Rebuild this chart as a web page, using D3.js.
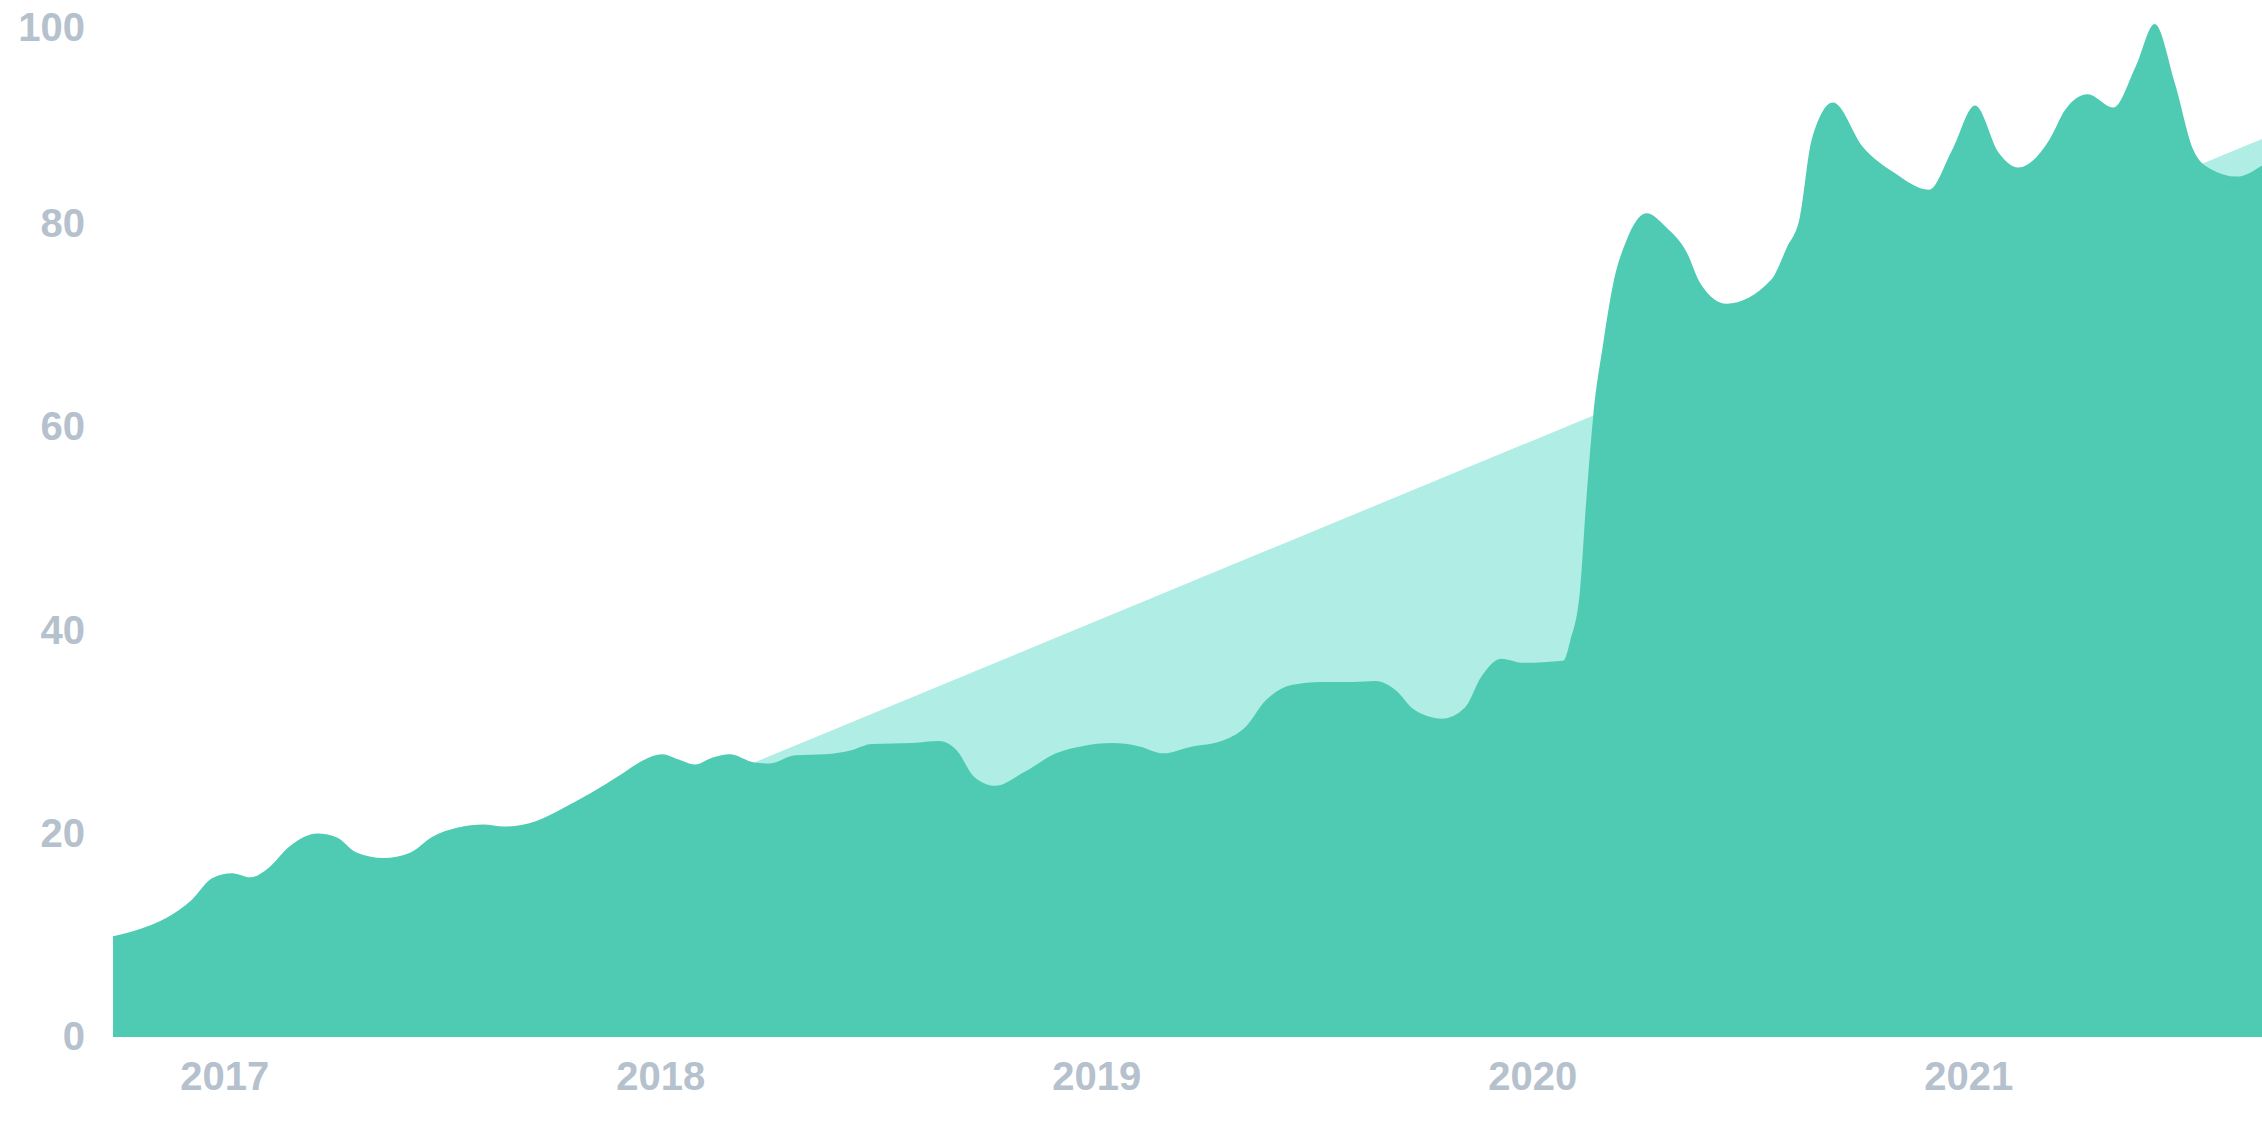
<!DOCTYPE html>
<html><head><meta charset="utf-8">
<script src="https://cdn.jsdelivr.net/npm/d3@7"></script>
<style>html,body{margin:0;background:#fff}</style>
</head><body><svg id="c" width="2262" height="1130"></svg>
<script>
const years = [2016.745,2016.798,2016.867,2016.926,2016.972,2017.018,2017.060,2017.101,2017.149,2017.214,2017.260,2017.301,2017.366,2017.425,2017.478,2017.536,2017.595,2017.641,2017.713,2017.777,2017.841,2017.910,2017.952,2018.005,2018.041,2018.080,2018.122,2018.159,2018.216,2018.251,2018.310,2018.379,2018.439,2018.485,2018.579,2018.639,2018.680,2018.720,2018.768,2018.837,2018.908,2018.968,2019.037,2019.097,2019.154,2019.214,2019.294,2019.343,2019.389,2019.448,2019.517,2019.589,2019.641,2019.687,2019.729,2019.793,2019.846,2019.883,2019.929,2019.979,2020.071,2020.087,2020.110,2020.124,2020.140,2020.163,2020.186,2020.216,2020.262,2020.308,2020.354,2020.386,2020.446,2020.547,2020.584,2020.614,2020.641,2020.690,2020.759,2020.830,2020.910,2020.963,2021.016,2021.071,2021.115,2021.186,2021.223,2021.274,2021.333,2021.384,2021.428,2021.474,2021.517,2021.554,2021.616,2021.674];
const values = [9.9,10.5,11.7,13.5,15.6,16.1,15.7,16.6,18.7,20.0,19.6,18.2,17.6,18.1,19.7,20.6,20.9,20.7,21.2,22.5,24.0,25.8,27.0,27.8,27.3,26.8,27.5,27.8,27.0,26.9,27.7,27.8,28.2,28.8,28.9,29.1,28.2,25.6,24.7,26.1,27.9,28.6,28.9,28.6,27.9,28.5,29.2,30.5,33.1,34.6,34.9,34.9,35.0,34.1,32.2,31.3,32.4,35.4,37.2,36.8,37.0,38.9,44.0,52.7,61.0,68.2,74.1,78.3,81.0,79.6,77.2,74.1,72.1,74.4,77.6,80.6,88.2,91.9,87.5,85.0,83.3,87.2,91.6,86.9,85.5,88.2,91.2,92.7,91.4,95.4,99.6,93.8,87.2,85.4,84.6,85.7];
const trendYears = [2018.216, 2021.674];
const trendValues = [27.0, 88.3];
const yTicks = [0,20,40,60,80,100];
const xTicks = [2017,2018,2019,2020,2021];

const svg = d3.select('#c');
const x = d3.scaleLinear().domain([2016.745, 2021.674]).range([113, 2262]);
const y = d3.scaleLinear().domain([0, 100]).range([1037, 20]);

const dark = years.map((t,i)=>({t, v: values[i]}));
const light = trendYears.map((t,i)=>({t, v: trendValues[i]}));

svg.append('path').datum(light)
  .attr('fill','#b0ede4')
  .attr('d', d3.area().x(d=>x(d.t)).y0(y(0)).y1(d=>y(d.v)));
svg.append('path').datum(dark)
  .attr('fill','#4fcbb3')
  .attr('d', d3.area().curve(d3.curveMonotoneX).x(d=>x(d.t)).y0(y(0)).y1(d=>y(d.v)));

const font = '"Liberation Sans", Arial, sans-serif';
const ya = svg.append('g').attr('transform','translate(85,0)')
  .call(d3.axisLeft(y).tickValues(yTicks).tickSize(0).tickPadding(0));
const xa = svg.append('g').attr('transform','translate(0,1062)')
  .call(d3.axisBottom(x).tickValues(xTicks).tickFormat(d3.format('d')).tickSize(0).tickPadding(0));
[ya, xa].forEach(g=>{
  g.select('.domain').remove();
  g.selectAll('text').attr('fill','#b5c1cc').style('font-family',font)
    .style('font-weight','bold').style('font-size','40px');
});
xa.selectAll('text').attr('dy','0.71em');
ya.selectAll('text').filter(d=>d===100).attr('dy','0.5em');
</script></body></html>
